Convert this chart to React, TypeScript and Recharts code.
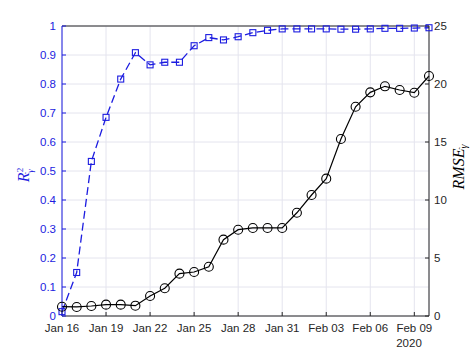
import { LineChart, Line, XAxis, YAxis, CartesianGrid, ReferenceLine } from 'recharts';

// Values (one point per day, Jan 16 .. Feb 10, 2020)
const dayIndex = [0, 1, 2, 3, 4, 5, 6, 7, 8, 9, 10, 11, 12, 13, 14, 15, 16, 17, 18, 19, 20, 21, 22, 23, 24, 25];

const r2Values = [
  0.015, 0.15, 0.533, 0.685, 0.817, 0.908, 0.866, 0.875, 0.875, 0.932, 0.96, 0.952, 0.963,
  0.977, 0.985, 0.99, 0.99, 0.99, 0.99, 0.989, 0.989, 0.99, 0.992, 0.992, 0.993, 0.994,
];

const rmseValues = [
  0.8, 0.78, 0.86, 0.98, 0.98, 0.89, 1.72, 2.39, 3.65, 3.79, 4.25, 6.58, 7.44,
  7.59, 7.59, 7.59, 8.9, 10.43, 11.84, 15.26, 18.04, 19.28, 19.8, 19.48, 19.25, 20.69,
];

const xTicks = [0, 3, 6, 9, 12, 15, 18, 21, 24];
const xTickLabels = ['Jan 16', 'Jan 19', 'Jan 22', 'Jan 25', 'Jan 28', 'Jan 31', 'Feb 03', 'Feb 06', 'Feb 09'];
const leftTicks = [0, 0.1, 0.2, 0.3, 0.4, 0.5, 0.6, 0.7, 0.8, 0.9, 1];
const rightTicks = [0, 5, 10, 15, 20, 25];

const data = dayIndex.map((d, i) => ({ day: d, r2: r2Values[i], rmse: rmseValues[i] }));

const BLUE = '#1c1ce0';
const AXIS = '#262626';
const GRID = '#e4e4ee';
const tickFont = { fontFamily: '"Liberation Sans", Arial, sans-serif', fontSize: 11.5 };
const serif = '"Liberation Serif", "DejaVu Serif", serif';

// hollow square marker, line shows through like the MATLAB original
const SquareDot = (props: any) => {
  const { cx, cy, index } = props;
  if (cx == null || cy == null) return null;
  return <rect key={`sq-${index}`} x={cx - 3} y={cy - 3} width={6} height={6} fill="none" stroke={BLUE} strokeWidth={1.1} />;
};

const LeftLabel = (props: any) => {
  const { viewBox } = props;
  const cx = viewBox.x + 29;
  const cy = viewBox.y + viewBox.height / 2 + 4;
  return (
    <text
      transform={`translate(${cx},${cy}) rotate(-90)`}
      textAnchor="middle"
      fill={BLUE}
      style={{ fontFamily: serif, fontStyle: 'italic', fontSize: 16 }}
    >
      R
      <tspan dy={-6} fontSize={9} fontStyle="normal">2</tspan>
      <tspan dx={-5} dy={10} fontSize={9}>γ</tspan>
      <tspan dx={-5} dy={-4} fontSize={7} fontStyle="normal">ˆ</tspan>
    </text>
  );
};

const RightLabel = (props: any) => {
  const { viewBox } = props;
  const cx = viewBox.x + 35;
  const cy = viewBox.y + viewBox.height / 2 - 4;
  return (
    <text
      transform={`translate(${cx},${cy}) rotate(-90)`}
      textAnchor="middle"
      fill="#000"
      style={{ fontFamily: serif, fontStyle: 'italic', fontSize: 16 }}
    >
      RMSE
      <tspan dy={3} fontSize={10}>γ</tspan>
      <tspan dx={-5} dy={-4} fontSize={7} fontStyle="normal">ˆ</tspan>
    </text>
  );
};

const YearLabel = (props: any) => {
  const { viewBox } = props;
  return (
    <text
      x={viewBox.x + viewBox.width - 20}
      y={viewBox.y + 31}
      textAnchor="middle"
      fill={AXIS}
      style={tickFont}
    >
      2020
    </text>
  );
};

export default function App() {
  return (
    <div style={{ width: 474, height: 355, background: '#fff' }}>
      <style>{'body{margin:0}'}</style>
      <LineChart width={474} height={355} data={data} margin={{ top: 26, right: 0, bottom: 0, left: 0 }}>
        <CartesianGrid stroke={GRID} yAxisId="left" />
        <XAxis
          dataKey="day"
          type="number"
          domain={[0, 25]}
          ticks={xTicks}
          tickFormatter={(v: number) => xTickLabels[xTicks.indexOf(v)] ?? ''}
          height={39}
          stroke={AXIS}
          tickSize={-4}
          tickMargin={12}
          tick={{ ...tickFont, fill: AXIS }}
          label={<YearLabel />}
          interval={0}
        />
        <YAxis
          yAxisId="left"
          orientation="left"
          domain={[0, 1]}
          ticks={leftTicks}
          tickFormatter={(v: number) => String(Math.round(v * 10) / 10)}
          width={62}
          stroke={BLUE}
          tickSize={-4}
          tickMargin={10}
          tick={{ ...tickFont, fill: BLUE }}
          label={<LeftLabel />}
          interval={0}
        />
        <YAxis
          yAxisId="right"
          orientation="right"
          domain={[0, 25]}
          ticks={rightTicks}
          width={45}
          stroke={AXIS}
          tickSize={-4}
          tickMargin={9}
          tick={{ ...tickFont, fill: AXIS }}
          label={<RightLabel />}
          interval={0}
        />
        <ReferenceLine yAxisId="left" y={1} stroke={AXIS} strokeWidth={1} />
        <Line
          yAxisId="left"
          dataKey="r2"
          stroke={BLUE}
          strokeWidth={1.3}
          strokeDasharray="8 4"
          dot={<SquareDot />}
          isAnimationActive={false}
        />
        <Line
          yAxisId="right"
          dataKey="rmse"
          stroke="#000"
          strokeWidth={1.2}
          dot={{ r: 4.5, fill: 'none', stroke: '#000', strokeWidth: 1.1 }}
          isAnimationActive={false}
        />
      </LineChart>
    </div>
  );
}
